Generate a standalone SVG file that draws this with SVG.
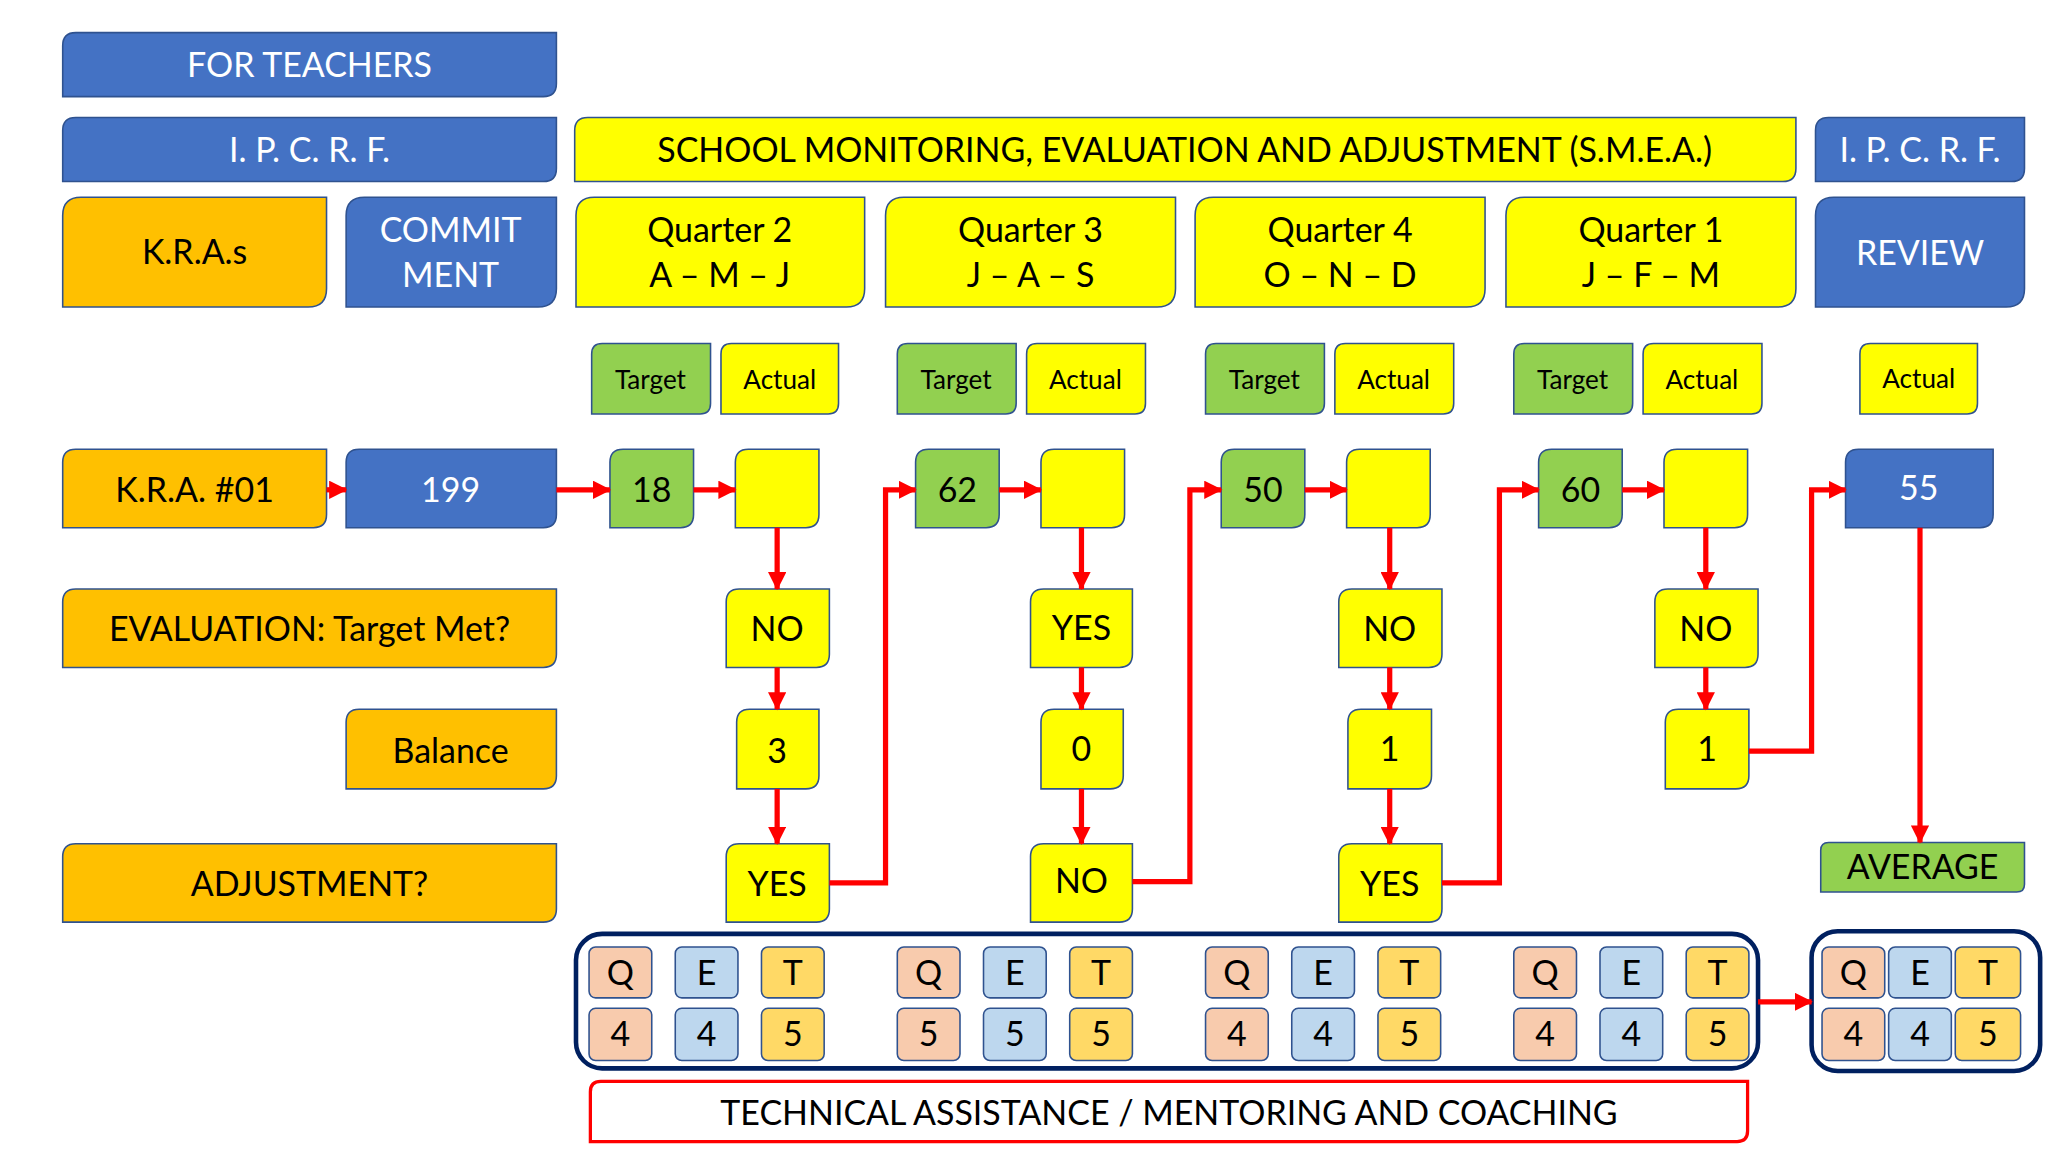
<svg xmlns="http://www.w3.org/2000/svg" width="2048" height="1152" viewBox="0 0 2048 1152">
<defs>
<marker id="ah" markerUnits="userSpaceOnUse" markerWidth="14" markerHeight="14" refX="13" refY="7" orient="auto"><path d="M0,0L14,7L0,14Z" fill="#FF0000"/></marker>
<style>
.b{fill:#4472C4;stroke:#2F528F;stroke-width:1.2}
.y{fill:#FFFF00;stroke:#2F528F;stroke-width:1.2}
.o{fill:#FFC000;stroke:#2F528F;stroke-width:1.2}
.g{fill:#92D050;stroke:#2F528F;stroke-width:1.2}
.q{fill:#F8CBAD;stroke:#2F528F;stroke-width:1.2}
.e{fill:#BDD7EE;stroke:#2F528F;stroke-width:1.2}
.t{fill:#FFD966;stroke:#2F528F;stroke-width:1.2}
text{font-family:Lato,"Liberation Sans",sans-serif;font-size:26px;text-anchor:middle;fill:#000}
.w{fill:#fff}
.s{font-size:20px}
.c{fill:none;stroke:#FF0000;stroke-width:4}
</style>
</defs>
<rect width="2048" height="1152" fill="#fff"/>
<g transform="scale(1.30612)">
<g id="forTeachers"><path class="b" d="M58,25H426V64Q426,74 416,74H48V35Q48,25 58,25Z"/><text class="w" x="237" y="59">FOR TEACHERS</text></g>
<g id="ipcrfL"><path class="b" d="M58,90H426V129Q426,139 416,139H48V100Q48,90 58,90Z"/><text class="w" x="237" y="124">I. P. C. R. F.</text></g>
<g id="smea"><path class="y" d="M450,90H1375V129Q1375,139 1365,139H440V100Q440,90 450,90Z"/><text x="907" y="124">SCHOOL MONITORING, EVALUATION AND ADJUSTMENT (S.M.E.A.)</text></g>
<g id="ipcrfR"><path class="b" d="M1400,90H1550V129Q1550,139 1540,139H1390V100Q1390,90 1400,90Z"/><text class="w" x="1470" y="124">I. P. C. R. F.</text></g>
<g id="kras"><path class="o" d="M62,151H250V221Q250,235 236,235H48V165Q48,151 62,151Z"/><text x="149" y="202">K.R.A.s</text></g>
<g id="commit"><path class="b" d="M279,151H426V221Q426,235 412,235H265V165Q265,151 279,151Z"/><text class="w" x="345" y="185">COMMIT</text><text class="w" x="345" y="220">MENT</text></g>
<g id="q2"><path class="y" d="M455,151H662V221Q662,235 648,235H441V165Q441,151 455,151Z"/><text x="551" y="185">Quarter 2</text><text x="551" y="220">A – M – J</text></g>
<g id="q3"><path class="y" d="M692,151H900V221Q900,235 886,235H678V165Q678,151 692,151Z"/><text x="789" y="185">Quarter 3</text><text x="789" y="220">J – A – S</text></g>
<g id="q4"><path class="y" d="M929,151H1137V221Q1137,235 1123,235H915V165Q915,151 929,151Z"/><text x="1026" y="185">Quarter 4</text><text x="1026" y="220">O – N – D</text></g>
<g id="q1"><path class="y" d="M1167,151H1375V221Q1375,235 1361,235H1153V165Q1153,151 1167,151Z"/><text x="1264" y="185">Quarter 1</text><text x="1264" y="220">J – F – M</text></g>
<g id="review"><path class="b" d="M1404,151H1550V221Q1550,235 1536,235H1390V165Q1390,151 1404,151Z"/><text class="w" x="1470" y="203">REVIEW</text></g>

<g id="t2"><path class="g" d="M461,263H544V309Q544,317 536,317H453V271Q453,263 461,263Z"/><text class="s" x="498" y="298">Target</text></g>
<g id="a2"><path class="y" d="M560,263H642V309Q642,317 634,317H552V271Q552,263 560,263Z"/><text class="s" x="597" y="298">Actual</text></g>
<g id="t3"><path class="g" d="M695,263H778V309Q778,317 770,317H687V271Q687,263 695,263Z"/><text class="s" x="732" y="298">Target</text></g>
<g id="a3"><path class="y" d="M794,263H877V309Q877,317 869,317H786V271Q786,263 794,263Z"/><text class="s" x="831" y="298">Actual</text></g>
<g id="t4"><path class="g" d="M931,263H1014V309Q1014,317 1006,317H923V271Q923,263 931,263Z"/><text class="s" x="968" y="298">Target</text></g>
<g id="a4"><path class="y" d="M1030,263H1113V309Q1113,317 1105,317H1022V271Q1022,263 1030,263Z"/><text class="s" x="1067" y="298">Actual</text></g>
<g id="t1"><path class="g" d="M1167,263H1250V309Q1250,317 1242,317H1159V271Q1159,263 1167,263Z"/><text class="s" x="1204" y="298">Target</text></g>
<g id="a1"><path class="y" d="M1266,263H1349V309Q1349,317 1341,317H1258V271Q1258,263 1266,263Z"/><text class="s" x="1303" y="298">Actual</text></g>
<g id="ar"><path class="y" d="M1432,263H1514V309Q1514,317 1506,317H1424V271Q1424,263 1432,263Z"/><text class="s" x="1469" y="297">Actual</text></g>

<g id="kra01"><path class="o" d="M58,344H250V394Q250,404 240,404H48V354Q48,344 58,344Z"/><text x="149" y="384">K.R.A. #01</text></g>
<g id="n199"><path class="b" d="M275,344H426V394Q426,404 416,404H265V354Q265,344 275,344Z"/><text class="w" x="345" y="384">199</text></g>
<g id="n18"><path class="g" d="M477,344H531V394Q531,404 521,404H467V354Q467,344 477,344Z"/><text x="499" y="384">18</text></g>
<g id="e2"><path class="y" d="M573,344H627V394Q627,404 617,404H563V354Q563,344 573,344Z"/></g>
<g id="n62"><path class="g" d="M711,344H765V394Q765,404 755,404H701V354Q701,344 711,344Z"/><text x="733" y="384">62</text></g>
<g id="e3"><path class="y" d="M807,344H861V394Q861,404 851,404H797V354Q797,344 807,344Z"/></g>
<g id="n50"><path class="g" d="M945,344H999V394Q999,404 989,404H935V354Q935,344 945,344Z"/><text x="967" y="384">50</text></g>
<g id="e4"><path class="y" d="M1041,344H1095V394Q1095,404 1085,404H1031V354Q1031,344 1041,344Z"/></g>
<g id="n60"><path class="g" d="M1188,344H1242V394Q1242,404 1232,404H1178V354Q1178,344 1188,344Z"/><text x="1210" y="384">60</text></g>
<g id="e1"><path class="y" d="M1284,344H1338V394Q1338,404 1328,404H1274V354Q1274,344 1284,344Z"/></g>
<g id="n55"><path class="b" d="M1423,344H1526V394Q1526,404 1516,404H1413V354Q1413,344 1423,344Z"/><text class="w" x="1469" y="383">55</text></g>

<g id="eval"><path class="o" d="M58,451H426V501Q426,511 416,511H48V461Q48,451 58,451Z"/><text x="237" y="491">EVALUATION: Target Met?</text></g>
<g id="no2"><path class="y" d="M566,451H635V501Q635,511 625,511H556V461Q556,451 566,451Z"/><text x="595" y="491">NO</text></g>
<g id="yes3"><path class="y" d="M799,451H867V501Q867,511 857,511H789V461Q789,451 799,451Z"/><text x="828" y="490">YES</text></g>
<g id="no4"><path class="y" d="M1035,451H1104V501Q1104,511 1094,511H1025V461Q1025,451 1035,451Z"/><text x="1064" y="491">NO</text></g>
<g id="no1"><path class="y" d="M1277,451H1346V501Q1346,511 1336,511H1267V461Q1267,451 1277,451Z"/><text x="1306" y="491">NO</text></g>

<g id="balance"><path class="o" d="M275,543H426V594Q426,604 416,604H265V553Q265,543 275,543Z"/><text x="345" y="584">Balance</text></g>
<g id="b2"><path class="y" d="M574,543H627V594Q627,604 617,604H564V553Q564,543 574,543Z"/><text x="595" y="584">3</text></g>
<g id="b3"><path class="y" d="M807,543H860V594Q860,604 850,604H797V553Q797,543 807,543Z"/><text x="828" y="583">0</text></g>
<g id="b4"><path class="y" d="M1042,543H1096V594Q1096,604 1086,604H1032V553Q1032,543 1042,543Z"/><text x="1064" y="583">1</text></g>
<g id="b1"><path class="y" d="M1285,543H1339V594Q1339,604 1329,604H1275V553Q1275,543 1285,543Z"/><text x="1307" y="583">1</text></g>

<g id="adj"><path class="o" d="M58,646H426V696Q426,706 416,706H48V656Q48,646 58,646Z"/><text x="237" y="686">ADJUSTMENT?</text></g>
<g id="yes2"><path class="y" d="M566,646H635V696Q635,706 625,706H556V656Q556,646 566,646Z"/><text x="595" y="686">YES</text></g>
<g id="no3"><path class="y" d="M799,646H867V696Q867,706 857,706H789V656Q789,646 799,646Z"/><text x="828" y="684">NO</text></g>
<g id="yes4"><path class="y" d="M1035,646H1104V696Q1104,706 1094,706H1025V656Q1025,646 1035,646Z"/><text x="1064" y="686">YES</text></g>
<g id="average"><path class="g" d="M1400,645H1550V677Q1550,683 1544,683H1394V651Q1394,645 1400,645Z"/><text x="1472" y="673">AVERAGE</text></g>

<g id="qetMain">
<rect x="441" y="715" width="905" height="103" rx="20" fill="none" stroke="#002060" stroke-width="3.5"/>
<rect class="q" x="451" y="725" width="48" height="39" rx="5"/><text x="475" y="754">Q</text>
<rect class="e" x="517" y="725" width="48" height="39" rx="5"/><text x="541" y="754">E</text>
<rect class="t" x="583" y="725" width="48" height="39" rx="5"/><text x="607" y="754">T</text>
<rect class="q" x="451" y="772" width="48" height="40" rx="5"/><text x="475" y="801">4</text>
<rect class="e" x="517" y="772" width="48" height="40" rx="5"/><text x="541" y="801">4</text>
<rect class="t" x="583" y="772" width="48" height="40" rx="5"/><text x="607" y="801">5</text>
<rect class="q" x="687" y="725" width="48" height="39" rx="5"/><text x="711" y="754">Q</text>
<rect class="e" x="753" y="725" width="48" height="39" rx="5"/><text x="777" y="754">E</text>
<rect class="t" x="819" y="725" width="48" height="39" rx="5"/><text x="843" y="754">T</text>
<rect class="q" x="687" y="772" width="48" height="40" rx="5"/><text x="711" y="801">5</text>
<rect class="e" x="753" y="772" width="48" height="40" rx="5"/><text x="777" y="801">5</text>
<rect class="t" x="819" y="772" width="48" height="40" rx="5"/><text x="843" y="801">5</text>
<rect class="q" x="923" y="725" width="48" height="39" rx="5"/><text x="947" y="754">Q</text>
<rect class="e" x="989" y="725" width="48" height="39" rx="5"/><text x="1013" y="754">E</text>
<rect class="t" x="1055" y="725" width="48" height="39" rx="5"/><text x="1079" y="754">T</text>
<rect class="q" x="923" y="772" width="48" height="40" rx="5"/><text x="947" y="801">4</text>
<rect class="e" x="989" y="772" width="48" height="40" rx="5"/><text x="1013" y="801">4</text>
<rect class="t" x="1055" y="772" width="48" height="40" rx="5"/><text x="1079" y="801">5</text>
<rect class="q" x="1159" y="725" width="48" height="39" rx="5"/><text x="1183" y="754">Q</text>
<rect class="e" x="1225" y="725" width="48" height="39" rx="5"/><text x="1249" y="754">E</text>
<rect class="t" x="1291" y="725" width="48" height="39" rx="5"/><text x="1315" y="754">T</text>
<rect class="q" x="1159" y="772" width="48" height="40" rx="5"/><text x="1183" y="801">4</text>
<rect class="e" x="1225" y="772" width="48" height="40" rx="5"/><text x="1249" y="801">4</text>
<rect class="t" x="1291" y="772" width="48" height="40" rx="5"/><text x="1315" y="801">5</text>
</g>
<g id="qetReview">
<rect x="1387" y="713" width="175" height="107" rx="20" fill="none" stroke="#002060" stroke-width="3.5"/>
<rect class="q" x="1395" y="725" width="48" height="39" rx="5"/><text x="1419" y="754">Q</text>
<rect class="e" x="1446" y="725" width="48" height="39" rx="5"/><text x="1470" y="754">E</text>
<rect class="t" x="1497" y="725" width="50" height="39" rx="5"/><text x="1522" y="754">T</text>
<rect class="q" x="1395" y="772" width="48" height="40" rx="5"/><text x="1419" y="801">4</text>
<rect class="e" x="1446" y="772" width="48" height="40" rx="5"/><text x="1470" y="801">4</text>
<rect class="t" x="1497" y="772" width="50" height="40" rx="5"/><text x="1522" y="801">5</text>
</g>
<g id="ta"><path d="M460,828H1338V866Q1338,874 1330,874H452V836Q452,828 460,828Z" fill="#fff" stroke="#FF0000" stroke-width="2.5"/><text x="895" y="861">TECHNICAL ASSISTANCE / MENTORING AND COACHING</text></g>

<g id="connectors" class="c" marker-end="url(#ah)">
<path class="c" marker-end="url(#ah)" d="M250,375H265"/>
<path class="c" marker-end="url(#ah)" d="M426,375H467"/>
<path class="c" marker-end="url(#ah)" d="M531,375H563"/>
<path class="c" marker-end="url(#ah)" d="M595,404V451"/>
<path class="c" marker-end="url(#ah)" d="M595,511V543"/>
<path class="c" marker-end="url(#ah)" d="M595,604V646"/>
<path class="c" marker-end="url(#ah)" d="M635,676H678V375H701"/>
<path class="c" marker-end="url(#ah)" d="M765,375H797"/>
<path class="c" marker-end="url(#ah)" d="M828,404V451"/>
<path class="c" marker-end="url(#ah)" d="M828,511V543"/>
<path class="c" marker-end="url(#ah)" d="M828,604V646"/>
<path class="c" marker-end="url(#ah)" d="M867,675H911V375H935"/>
<path class="c" marker-end="url(#ah)" d="M999,375H1031"/>
<path class="c" marker-end="url(#ah)" d="M1064,404V451"/>
<path class="c" marker-end="url(#ah)" d="M1064,511V543"/>
<path class="c" marker-end="url(#ah)" d="M1064,604V646"/>
<path class="c" marker-end="url(#ah)" d="M1104,676H1148V375H1178"/>
<path class="c" marker-end="url(#ah)" d="M1242,375H1274"/>
<path class="c" marker-end="url(#ah)" d="M1306,404V451"/>
<path class="c" marker-end="url(#ah)" d="M1306,511V543"/>
<path class="c" marker-end="url(#ah)" d="M1339,575H1387V375H1413"/>
<path class="c" marker-end="url(#ah)" d="M1470,404V645"/>
<path class="c" marker-end="url(#ah)" d="M1346,767H1387"/>
</g>
</g>
</svg>
